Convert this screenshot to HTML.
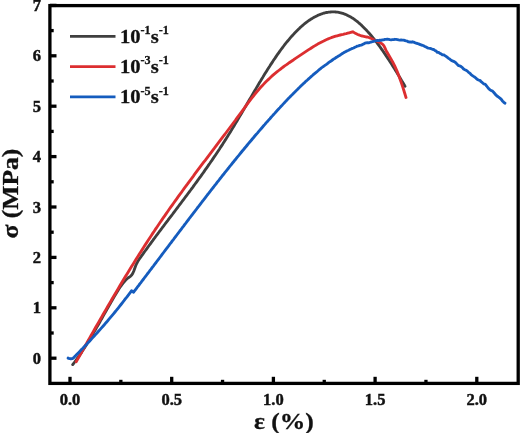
<!DOCTYPE html>
<html><head><meta charset="utf-8"><title>Stress-strain curves</title>
<style>
html,body{margin:0;padding:0;background:#fff;}
body{width:520px;height:433px;overflow:hidden;}
svg{display:block;filter:blur(0.45px);}
text{font-family:"Liberation Serif","DejaVu Serif",serif;font-weight:bold;fill:#111;}
.tk text{font-size:16.5px;stroke:#111;stroke-width:0.45px;}
.lg{font-size:19.5px;stroke:#111;stroke-width:0.3px;}
.ax{font-size:24px;stroke:#111;stroke-width:0.3px;}
</style></head><body>
<svg width="520" height="433" viewBox="0 0 520 433">
<rect width="520" height="433" fill="#fff"/>
<g fill="none" stroke-linecap="round" stroke-linejoin="round" stroke-width="2.85">
<path stroke="#3f3f3f" d="M72.7,364.6 L73.7,363.3 L74.7,362.0 L75.7,360.7 L76.7,359.3 L77.7,357.9 L78.7,356.5 L79.7,355.0 L80.7,353.6 L81.7,352.1 L82.7,350.5 L83.7,349.0 L84.7,347.4 L85.7,345.9 L86.7,344.3 L87.7,342.6 L88.7,341.0 L89.7,339.4 L90.7,337.7 L91.7,336.0 L92.7,334.3 L93.7,332.6 L94.7,330.9 L95.7,329.2 L96.7,327.4 L97.7,325.7 L98.7,324.0 L99.7,322.2 L100.7,320.4 L101.7,318.7 L102.7,316.9 L103.7,315.1 L104.7,313.4 L105.7,311.6 L106.7,309.8 L107.7,308.1 L108.7,306.3 L109.7,304.6 L110.7,302.8 L111.7,301.1 L112.7,299.3 L113.7,297.6 L114.7,295.9 L115.7,294.2 L116.7,292.5 L117.7,290.9 L118.7,289.3 L119.7,287.8 L120.7,286.3 L121.7,284.9 L122.7,283.6 L123.7,282.3 L124.7,281.2 L125.7,280.1 L126.7,279.1 L127.7,278.2 L128.7,277.5 L129.7,276.8 L130.7,276.1 L131.7,275.1 L132.7,273.5 L133.7,271.2 L134.7,268.4 L135.7,265.7 L136.7,263.5 L137.7,261.6 L138.7,260.0 L139.7,258.5 L140.7,257.1 L141.7,255.7 L142.7,254.3 L143.7,252.9 L144.7,251.5 L145.7,250.2 L146.7,248.8 L147.7,247.4 L148.7,246.0 L149.7,244.7 L150.7,243.3 L151.7,241.9 L152.7,240.6 L153.7,239.2 L154.7,237.9 L155.7,236.5 L156.7,235.2 L157.7,233.9 L158.7,232.5 L159.7,231.2 L160.7,229.9 L161.7,228.5 L162.7,227.2 L163.7,225.9 L164.7,224.5 L165.7,223.2 L166.7,221.9 L167.7,220.6 L168.7,219.2 L169.7,217.9 L170.7,216.6 L171.7,215.3 L172.7,214.0 L173.7,212.6 L174.7,211.3 L175.7,210.0 L176.7,208.7 L177.7,207.3 L178.7,206.0 L179.7,204.7 L180.7,203.4 L181.7,202.0 L182.7,200.7 L183.7,199.4 L184.7,198.0 L185.7,196.7 L186.7,195.4 L187.7,194.0 L188.7,192.7 L189.7,191.3 L190.7,190.0 L191.7,188.6 L192.7,187.3 L193.7,185.9 L194.7,184.5 L195.7,183.2 L196.7,181.8 L197.7,180.4 L198.7,179.0 L199.7,177.6 L200.7,176.3 L201.7,174.9 L202.7,173.5 L203.7,172.1 L204.7,170.6 L205.7,169.2 L206.7,167.8 L207.7,166.4 L208.7,164.9 L209.7,163.5 L210.7,162.0 L211.7,160.6 L212.7,159.1 L213.7,157.6 L214.7,156.2 L215.7,154.7 L216.7,153.2 L217.7,151.7 L218.7,150.2 L219.7,148.7 L220.7,147.1 L221.7,145.6 L222.7,144.1 L223.7,142.5 L224.7,140.9 L225.7,139.4 L226.7,137.8 L227.7,136.2 L228.7,134.6 L229.7,133.0 L230.7,131.4 L231.7,129.7 L232.7,128.1 L233.7,126.5 L234.7,124.8 L235.7,123.1 L236.7,121.5 L237.7,119.8 L238.7,118.1 L239.7,116.4 L240.7,114.7 L241.7,113.0 L242.7,111.3 L243.7,109.6 L244.7,107.9 L245.7,106.2 L246.7,104.4 L247.7,102.7 L248.7,101.0 L249.7,99.3 L250.7,97.6 L251.7,95.9 L252.7,94.2 L253.7,92.5 L254.7,90.8 L255.7,89.1 L256.7,87.4 L257.7,85.7 L258.7,84.0 L259.7,82.3 L260.7,80.7 L261.7,79.0 L262.7,77.4 L263.7,75.7 L264.7,74.1 L265.7,72.5 L266.7,70.9 L267.7,69.3 L268.7,67.7 L269.7,66.2 L270.7,64.6 L271.7,63.1 L272.7,61.6 L273.7,60.0 L274.7,58.6 L275.7,57.1 L276.7,55.6 L277.7,54.2 L278.7,52.8 L279.7,51.4 L280.7,50.0 L281.7,48.7 L282.7,47.3 L283.7,46.0 L284.7,44.7 L285.7,43.4 L286.7,42.2 L287.7,41.0 L288.7,39.8 L289.7,38.6 L290.7,37.4 L291.7,36.3 L292.7,35.2 L293.7,34.1 L294.7,33.0 L295.7,32.0 L296.7,31.0 L297.7,30.0 L298.7,29.0 L299.7,28.1 L300.7,27.1 L301.7,26.2 L302.7,25.4 L303.7,24.5 L304.7,23.7 L305.7,22.9 L306.7,22.1 L307.7,21.4 L308.7,20.7 L309.7,20.0 L310.7,19.3 L311.7,18.7 L312.7,18.1 L313.7,17.5 L314.7,16.9 L315.7,16.4 L316.7,15.9 L317.7,15.4 L318.7,15.0 L319.7,14.6 L320.7,14.2 L321.7,13.9 L322.7,13.5 L323.7,13.2 L324.7,13.0 L325.7,12.7 L326.7,12.5 L327.7,12.3 L328.7,12.2 L329.7,12.1 L330.7,12.0 L331.7,11.9 L332.7,11.9 L333.7,11.9 L334.7,11.9 L335.7,12.0 L336.7,12.1 L337.7,12.2 L338.7,12.4 L339.7,12.6 L340.7,12.8 L341.7,13.1 L342.7,13.4 L343.7,13.7 L344.7,14.1 L345.7,14.5 L346.7,14.9 L347.7,15.4 L348.7,15.9 L349.7,16.4 L350.7,17.0 L351.7,17.6 L352.7,18.2 L353.7,18.9 L354.7,19.6 L355.7,20.4 L356.7,21.1 L357.7,21.9 L358.7,22.8 L359.7,23.6 L360.7,24.5 L361.7,25.4 L362.7,26.4 L363.7,27.4 L364.7,28.4 L365.7,29.4 L366.7,30.5 L367.7,31.6 L368.7,32.7 L369.7,33.8 L370.7,35.0 L371.7,36.2 L372.7,37.4 L373.7,38.6 L374.7,39.9 L375.7,41.2 L376.7,42.5 L377.7,43.8 L378.7,45.1 L379.7,46.5 L380.7,47.9 L381.7,49.3 L382.7,50.7 L383.7,52.2 L384.7,53.6 L385.7,55.1 L386.7,56.6 L387.7,58.1 L388.7,59.6 L389.7,61.2 L390.7,62.7 L391.7,64.3 L392.7,65.9 L393.7,67.5 L394.7,69.1 L395.7,70.7 L396.7,72.3 L397.7,74.0 L398.7,75.6 L399.7,77.3 L400.7,79.0 L401.7,80.7 L402.7,82.3 L403.7,84.0 L404.7,85.8 L405.0,86.3"/>
<path stroke="#dc2e30" d="M76.2,361.8 L77.7,359.1 L79.2,356.5 L80.7,353.8 L82.2,351.1 L83.7,348.5 L85.2,345.8 L86.7,343.2 L88.2,340.5 L89.7,337.9 L91.2,335.2 L92.7,332.6 L94.2,330.0 L95.7,327.3 L97.2,324.7 L98.7,322.1 L100.2,319.5 L101.7,316.9 L103.2,314.3 L104.7,311.7 L106.2,309.1 L107.7,306.5 L109.2,303.9 L110.7,301.4 L112.2,298.8 L113.7,296.3 L115.2,293.7 L116.7,291.2 L118.2,288.6 L119.7,286.1 L121.2,283.6 L122.7,281.1 L124.2,278.6 L125.7,276.1 L127.2,273.7 L128.7,271.2 L130.2,268.8 L131.7,266.3 L133.2,263.9 L134.7,261.5 L136.2,259.1 L137.7,256.7 L139.2,254.3 L140.7,251.9 L142.2,249.6 L143.7,247.2 L145.2,244.9 L146.7,242.6 L148.2,240.3 L149.7,238.0 L151.2,235.7 L152.7,233.4 L154.2,231.2 L155.7,228.9 L157.2,226.7 L158.7,224.5 L160.2,222.3 L161.7,220.1 L163.2,217.9 L164.7,215.8 L166.2,213.6 L167.7,211.5 L169.2,209.3 L170.7,207.2 L172.2,205.1 L173.7,203.0 L175.2,200.9 L176.7,198.8 L178.2,196.7 L179.7,194.6 L181.2,192.6 L182.7,190.5 L184.2,188.4 L185.7,186.4 L187.2,184.4 L188.7,182.3 L190.2,180.3 L191.7,178.3 L193.2,176.3 L194.7,174.2 L196.2,172.2 L197.7,170.2 L199.2,168.2 L200.7,166.2 L202.2,164.2 L203.7,162.2 L205.2,160.3 L206.7,158.3 L208.2,156.3 L209.7,154.3 L211.2,152.3 L212.7,150.3 L214.2,148.4 L215.7,146.4 L217.2,144.4 L218.7,142.4 L220.2,140.4 L221.7,138.4 L223.2,136.4 L224.7,134.5 L226.2,132.5 L227.7,130.5 L229.2,128.5 L230.7,126.5 L232.2,124.5 L233.7,122.5 L235.2,120.5 L236.7,118.4 L238.2,116.4 L239.7,114.4 L241.2,112.4 L242.7,110.3 L244.2,108.3 L245.7,106.2 L247.2,104.2 L248.7,102.2 L250.2,100.2 L251.7,98.2 L253.2,96.3 L254.7,94.4 L256.2,92.5 L257.7,90.8 L259.2,89.0 L260.7,87.3 L262.2,85.7 L263.7,84.1 L265.2,82.5 L266.7,81.0 L268.2,79.6 L269.7,78.2 L271.2,76.8 L272.7,75.4 L274.2,74.1 L275.7,72.9 L277.2,71.7 L278.7,70.5 L280.2,69.3 L281.7,68.1 L283.2,67.0 L284.7,65.9 L286.2,64.9 L287.7,63.8 L289.2,62.7 L290.7,61.7 L292.2,60.7 L293.7,59.7 L295.2,58.6 L296.7,57.6 L298.2,56.6 L299.7,55.6 L301.2,54.6 L302.7,53.6 L304.2,52.6 L305.7,51.6 L307.2,50.6 L308.7,49.6 L310.2,48.7 L311.7,47.7 L313.2,46.8 L314.7,45.9 L316.2,45.0 L317.7,44.1 L319.2,43.3 L320.7,42.5 L322.2,41.7 L323.7,41.0 L325.2,40.2 L326.7,39.5 L328.2,38.9 L329.7,38.3 L331.2,37.7 L332.7,37.2 L334.2,36.7 L335.7,36.2 L337.2,35.8 L338.7,35.4 L340.2,35.0 L341.7,34.6 L343.2,34.3 L344.7,33.9 L346.2,33.6 L347.7,33.2 L349.2,32.8 L350.7,32.4 L352.2,32.0 L352.8,31.8 L353.8,32.4 L354.8,33.0 L355.8,33.5 L356.8,34.0 L357.8,34.5 L358.8,34.9 L359.8,35.3 L360.8,35.7 L361.8,36.0 L362.8,36.2 L363.8,36.4 L364.8,36.6 L365.8,36.8 L366.8,37.0 L367.8,37.2 L368.8,37.5 L369.8,37.9 L370.8,38.3 L371.8,38.7 L372.8,39.2 L373.8,39.7 L374.8,40.2 L375.8,40.7 L376.8,41.1 L377.8,41.6 L378.8,42.0 L379.8,42.5 L380.8,43.1 L381.8,43.7 L382.8,44.5 L383.8,45.6 L384.8,47.6 L385.8,49.9 L386.8,51.8 L387.8,53.5 L388.8,55.2 L389.8,56.9 L390.8,58.6 L391.8,60.4 L392.8,62.2 L393.8,64.1 L394.8,66.1 L395.8,68.3 L396.8,70.6 L397.8,73.1 L398.8,75.7 L399.8,78.4 L400.8,81.2 L401.8,84.1 L402.8,87.1 L403.8,90.2 L404.8,93.5 L405.8,96.8 L406.0,97.5"/>
<path stroke="#155cbe" d="M68.1,358.1 L68.8,358.4 L69.5,358.6 L70.2,358.7 L70.9,358.7 L71.6,358.7 L72.3,358.6 L73.0,358.3 L73.7,357.7 L74.4,356.9 L74.5,356.8 L76.0,355.3 L77.5,353.7 L79.0,352.2 L80.5,350.6 L82.0,349.1 L83.5,347.5 L85.0,345.9 L86.5,344.4 L88.0,342.8 L89.5,341.2 L91.0,339.5 L92.5,337.9 L94.0,336.3 L95.5,334.6 L97.0,333.0 L98.5,331.3 L100.0,329.6 L101.5,327.9 L103.0,326.2 L104.5,324.5 L106.0,322.7 L107.5,321.0 L109.0,319.2 L110.5,317.4 L112.0,315.6 L113.5,313.8 L115.0,312.0 L116.5,310.2 L118.0,308.3 L119.5,306.4 L121.0,304.5 L122.5,302.6 L124.0,300.7 L125.5,298.7 L127.0,296.8 L128.5,294.8 L130.0,292.8 L131.5,290.8 L133.6,292.2 L134.8,290.5 L136.1,288.9 L137.3,287.2 L138.6,285.6 L139.8,283.9 L141.1,282.3 L142.3,280.6 L143.6,279.0 L144.8,277.3 L146.1,275.7 L147.3,274.0 L148.6,272.4 L149.8,270.7 L151.1,269.1 L152.3,267.4 L153.6,265.8 L154.8,264.1 L156.1,262.5 L157.3,260.8 L158.6,259.2 L159.8,257.5 L161.1,255.8 L162.3,254.2 L163.6,252.5 L164.8,250.9 L166.1,249.2 L167.3,247.6 L168.6,245.9 L169.8,244.2 L171.1,242.6 L172.3,240.9 L173.6,239.3 L174.8,237.6 L176.1,236.0 L177.3,234.3 L178.6,232.7 L179.8,231.0 L181.1,229.4 L182.3,227.7 L183.6,226.1 L184.8,224.4 L186.1,222.8 L187.3,221.1 L188.6,219.5 L189.8,217.8 L191.1,216.2 L192.3,214.6 L193.6,212.9 L194.8,211.3 L196.1,209.7 L197.3,208.0 L198.6,206.4 L199.8,204.8 L201.1,203.1 L202.3,201.5 L203.6,199.9 L204.8,198.3 L206.1,196.6 L207.3,195.0 L208.6,193.4 L209.8,191.8 L211.1,190.2 L212.3,188.6 L213.6,187.0 L214.8,185.4 L216.1,183.8 L217.3,182.2 L218.6,180.6 L219.8,179.0 L221.1,177.4 L222.3,175.8 L223.6,174.3 L224.8,172.7 L226.1,171.1 L227.3,169.6 L228.6,168.0 L229.8,166.4 L231.1,164.9 L232.3,163.3 L233.6,161.8 L234.8,160.2 L236.1,158.7 L237.3,157.1 L238.6,155.6 L239.8,154.1 L241.1,152.5 L242.3,151.0 L243.6,149.5 L244.8,148.0 L246.1,146.5 L247.3,145.0 L248.6,143.4 L249.8,142.0 L251.1,140.5 L252.3,139.0 L253.6,137.5 L254.8,136.0 L256.1,134.5 L257.4,133.1 L258.6,131.6 L259.9,130.1 L261.1,128.7 L262.4,127.2 L263.6,125.8 L264.9,124.4 L266.1,122.9 L267.4,121.5 L268.6,120.1 L269.9,118.7 L271.1,117.3 L272.4,115.9 L273.6,114.5 L274.9,113.1 L276.1,111.7 L277.4,110.3 L278.6,109.0 L279.9,107.6 L281.1,106.2 L282.4,104.9 L283.6,103.6 L284.9,102.2 L286.1,100.9 L287.4,99.6 L288.6,98.3 L289.9,97.0 L291.1,95.7 L292.4,94.5 L293.6,93.2 L294.9,91.9 L296.1,90.7 L297.4,89.5 L298.6,88.2 L299.9,87.0 L301.1,85.8 L302.4,84.6 L303.6,83.4 L304.9,82.3 L306.1,81.1 L307.4,80.0 L308.6,78.9 L309.9,77.7 L311.1,76.6 L312.4,75.5 L313.6,74.4 L314.9,73.3 L316.1,72.3 L317.4,71.3 L318.6,70.2 L319.9,69.2 L321.1,68.1 L322.4,67.2 L323.6,66.3 L324.9,65.4 L326.1,64.6 L327.4,63.6 L328.6,62.6 L329.9,61.7 L331.1,61.0 L332.4,60.0 L333.6,59.1 L334.9,58.4 L336.1,57.5 L337.4,56.7 L338.6,55.9 L339.9,55.2 L341.1,54.4 L342.4,53.5 L343.6,52.8 L344.9,52.0 L346.1,51.4 L347.4,50.8 L348.6,50.3 L349.9,49.6 L351.1,49.0 L352.4,48.4 L353.6,48.0 L354.9,47.3 L356.1,46.8 L357.4,46.1 L358.6,45.9 L359.9,45.3 L361.1,45.1 L362.4,44.6 L363.6,43.9 L364.9,43.2 L366.1,42.9 L367.4,42.7 L368.6,42.8 L369.9,42.4 L371.1,42.0 L372.4,41.7 L373.6,41.3 L374.9,40.8 L376.1,40.7 L377.4,40.4 L378.6,40.6 L379.9,40.2 L381.1,40.4 L382.4,39.9 L383.6,39.8 L384.9,39.4 L386.1,39.4 L387.4,39.1 L388.6,39.4 L389.9,39.7 L391.1,39.9 L392.4,39.7 L393.6,39.6 L394.9,39.3 L396.1,39.4 L397.4,39.6 L398.6,39.9 L399.9,40.1 L401.1,40.0 L402.4,40.1 L403.6,40.2 L404.9,40.5 L406.1,40.9 L407.4,41.2 L408.6,41.9 L409.9,42.0 L411.1,42.2 L412.4,41.8 L413.6,42.2 L414.9,42.7 L416.1,43.2 L417.4,43.5 L418.6,43.9 L419.9,44.5 L421.1,44.8 L422.4,45.3 L423.6,45.8 L424.9,46.5 L426.1,47.1 L427.4,47.8 L428.6,48.2 L429.9,48.3 L431.1,48.7 L432.4,49.3 L433.6,49.5 L434.9,50.4 L436.1,51.1 L437.4,52.4 L438.6,52.4 L439.9,53.4 L441.1,53.8 L442.4,54.8 L443.6,54.8 L444.9,55.6 L446.1,56.4 L447.4,57.4 L448.6,58.3 L449.9,59.2 L451.1,60.3 L452.4,60.9 L453.6,61.4 L454.9,62.0 L456.1,63.1 L457.4,64.5 L458.6,65.6 L459.9,65.9 L461.1,66.6 L462.4,67.6 L463.6,69.0 L464.9,69.7 L466.1,70.3 L467.4,71.1 L468.6,72.4 L469.9,73.2 L471.1,74.7 L472.4,75.6 L473.6,76.4 L474.9,77.2 L476.1,78.3 L477.4,79.4 L478.6,80.1 L479.9,80.3 L481.1,81.7 L482.4,82.7 L483.6,83.8 L484.9,84.1 L486.1,85.3 L487.4,87.0 L488.6,88.5 L489.9,89.8 L491.1,90.4 L492.4,91.1 L493.6,92.3 L494.9,93.8 L496.1,95.2 L497.4,96.3 L498.6,97.1 L499.9,98.1 L501.1,99.1 L502.4,100.9 L503.6,102.1 L504.9,103.3 L505.0,103.0"/>
</g>
<g stroke="#000" stroke-width="3.3"><line x1="49.9" y1="358.20" x2="56.50" y2="358.20"/><line x1="49.9" y1="307.80" x2="56.50" y2="307.80"/><line x1="49.9" y1="257.40" x2="56.50" y2="257.40"/><line x1="49.9" y1="207.00" x2="56.50" y2="207.00"/><line x1="49.9" y1="156.60" x2="56.50" y2="156.60"/><line x1="49.9" y1="106.20" x2="56.50" y2="106.20"/><line x1="49.9" y1="55.80" x2="56.50" y2="55.80"/><line x1="49.9" y1="5.40" x2="56.50" y2="5.40"/><line x1="49.9" y1="333.00" x2="53.70" y2="333.00"/><line x1="49.9" y1="282.60" x2="53.70" y2="282.60"/><line x1="49.9" y1="232.20" x2="53.70" y2="232.20"/><line x1="49.9" y1="181.80" x2="53.70" y2="181.80"/><line x1="49.9" y1="131.40" x2="53.70" y2="131.40"/><line x1="49.9" y1="81.00" x2="53.70" y2="81.00"/><line x1="49.9" y1="30.60" x2="53.70" y2="30.60"/><line x1="70.00" y1="383.4" x2="70.00" y2="376.80"/><line x1="171.70" y1="383.4" x2="171.70" y2="376.80"/><line x1="273.40" y1="383.4" x2="273.40" y2="376.80"/><line x1="375.10" y1="383.4" x2="375.10" y2="376.80"/><line x1="476.80" y1="383.4" x2="476.80" y2="376.80"/><line x1="120.85" y1="383.4" x2="120.85" y2="379.80"/><line x1="222.55" y1="383.4" x2="222.55" y2="379.80"/><line x1="324.25" y1="383.4" x2="324.25" y2="379.80"/><line x1="425.95" y1="383.4" x2="425.95" y2="379.80"/></g>
<rect x="49.9" y="5.6" width="468.30" height="377.80" fill="none" stroke="#000" stroke-width="3.3"/>
<g class="tk"><text x="41" y="363.7" text-anchor="end">0</text><text x="41" y="313.3" text-anchor="end">1</text><text x="41" y="262.9" text-anchor="end">2</text><text x="41" y="212.5" text-anchor="end">3</text><text x="41" y="162.1" text-anchor="end">4</text><text x="41" y="111.7" text-anchor="end">5</text><text x="41" y="61.3" text-anchor="end">6</text><text x="41" y="10.9" text-anchor="end">7</text><text x="70.0" y="404.7" text-anchor="middle">0.0</text><text x="171.7" y="404.7" text-anchor="middle">0.5</text><text x="273.4" y="404.7" text-anchor="middle">1.0</text><text x="375.1" y="404.7" text-anchor="middle">1.5</text><text x="476.8" y="404.7" text-anchor="middle">2.0</text></g>
<line x1="70" y1="36.40" x2="115.5" y2="36.40" stroke="#3f3f3f" stroke-width="2.6"/><text transform="translate(120,42.60) scale(1.055,1)" class="lg">10<tspan dy="-8.4" font-size="11.5">-1</tspan><tspan dy="8.4">s</tspan><tspan dy="-8.4" font-size="11.5">-1</tspan></text><line x1="70" y1="66.65" x2="115.5" y2="66.65" stroke="#dc2e30" stroke-width="2.6"/><text transform="translate(120,72.85) scale(1.055,1)" class="lg">10<tspan dy="-8.4" font-size="11.5">-3</tspan><tspan dy="8.4">s</tspan><tspan dy="-8.4" font-size="11.5">-1</tspan></text><line x1="70" y1="96.90" x2="115.5" y2="96.90" stroke="#155cbe" stroke-width="2.6"/><text transform="translate(120,103.10) scale(1.055,1)" class="lg">10<tspan dy="-8.4" font-size="11.5">-5</tspan><tspan dy="8.4">s</tspan><tspan dy="-8.4" font-size="11.5">-1</tspan></text>
<text class="ax" transform="translate(283.9,428.9) scale(1.065,1)" text-anchor="middle">ε (%)</text>
<text class="ax" transform="translate(17.7,193.6) rotate(-90) scale(1.065,1)" text-anchor="middle">σ (MPa)</text>
</svg>
</body></html>
